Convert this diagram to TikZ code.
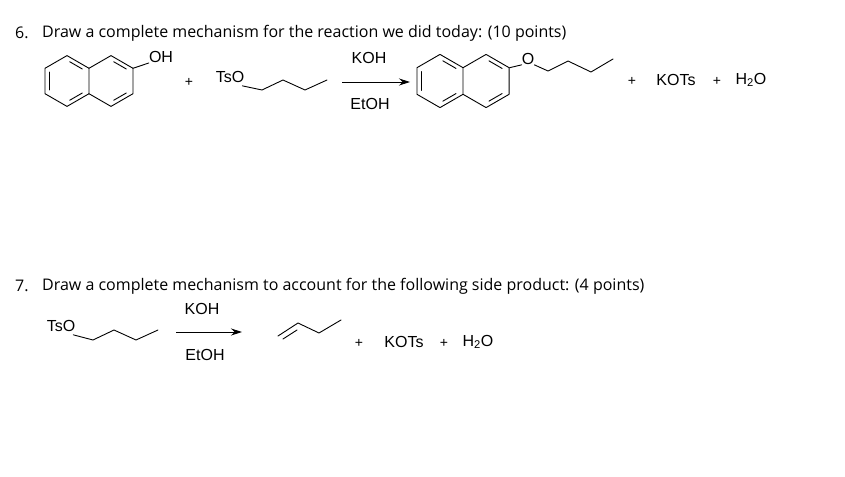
\documentclass[tikz,border=0pt]{standalone}
\usepackage{fontspec}
\setmainfont{Liberation Sans}
\newfontfamily\headfont{Open Sans}
\usetikzlibrary{calc,arrows.meta}
\begin{document}
\begin{tikzpicture}[x=1pt,y=-1pt,
  bond/.style={line width=0.9pt,line cap=round,line join=round},
  head/.style={anchor=west,inner sep=0pt,font=\headfont\fontsize{16}{18}\selectfont},
  lab/.style={inner sep=0pt,font=\fontsize{16}{18}\selectfont},
  plus/.style={inner sep=0pt,font=\fontsize{14}{16}\selectfont},
  rxn/.style={line width=0.9pt,-{Stealth[length=11pt,width=7pt]}}]
\useasboundingbox (0,0) rectangle (845,476);
\def\naph#1#2#3{% cx1 cy r
  \begin{scope}[shift={(#1,#2)}]
  \pgfmathsetmacro\r{#3}\pgfmathsetmacro\w{#3*cos(30)}
  \draw[bond] (90:\r) -- (30:\r) -- (-30:\r) -- (-90:\r) -- (-150:\r) -- (150:\r) -- cycle;
  \draw[bond] (30:\r) -- ++(30:\r) -- ++(-30:\r) -- ++(-90:\r) -- ++(-150:\r) -- ++(150:\r);
  \draw[bond] ($(150:\r)!0.15!(-150:\r)+(0.18*\r,0)$) -- ($(-150:\r)!0.15!(150:\r)+(0.18*\r,0)$);
  \draw[bond] ($(90:\r)!0.15!(30:\r)!0.18!(0,0)$) -- ($(30:\r)!0.15!(90:\r)!0.18!(0,0)$);
  \draw[bond] ($(-90:\r)!0.15!(-30:\r)!0.18!(0,0)$) -- ($(-30:\r)!0.15!(-90:\r)!0.18!(0,0)$);
  \begin{scope}[shift={(2*\w,0)}]
  \draw[bond] ($(90:\r)!0.15!(30:\r)!0.18!(0,0)$) -- ($(30:\r)!0.15!(90:\r)!0.18!(0,0)$);
  \draw[bond] ($(-90:\r)!0.15!(-30:\r)!0.18!(0,0)$) -- ($(-30:\r)!0.15!(-90:\r)!0.18!(0,0)$);
  \end{scope}
  \end{scope}}
% headings
\node[head] (h6n) at (15,33) {6.};
\node[head] (h6) at (42,33) {Draw a complete mechanism for the reaction we did today: (10 points)};
\node[head] (h7n) at (15,286) {7.};
\node[head] (h7) at (42,286) {Draw a complete mechanism to account for the following side product: (4 points)};
% reaction 6
\naph{67}{81}{25.4}
\node[lab] (oh) at (161,57) {OH};
\coordinate (c2) at (133,68.3);
\draw[bond] (c2) -- (oh.west|-0,63);
\node[plus] (p1) at (189,82) {+};
\node[lab] (ts1) at (230,77) {TsO};
\draw[bond] (ts1.south east) ++(-2,3) coordinate (o1) -- (262,90) -- (283,80) -- (305,90) -- (327,80);
\node[lab] (koh1) at (369,58) {KOH};
\node[lab] (etoh1) at (370,104) {EtOH};
\coordinate (a1s) at (342,82); \coordinate (a1e) at (410,82);
\draw[rxn] (a1s) -- (a1e);
\naph{440}{81}{26.6}
\node[lab] (o2) at (528,59) {O};
\coordinate (c3) at (509.6,67.7);
\draw[bond] (c3) -- (o2.south west);
\draw[bond] (o2.south east) -- (548,71) -- (568,61) -- (591,72) -- (613,59);
\node[plus] (p2) at (632,81) {+};
\node[lab] (kots1) at (676,80) {KOTs};
\node[plus] (p3) at (717,81) {+};
\node[lab] (h2o1) at (751,80) {H\textsubscript{2}O};
% reaction 7
\node[lab] (ts2) at (61,326) {TsO};
\draw[bond] (ts2.south east) ++(-2,3) coordinate (o3) -- (93,340) -- (114,330) -- (136,340) -- (158,330);
\node[lab] (koh2) at (202,309) {KOH};
\node[lab] (etoh2) at (205,355) {EtOH};
\coordinate (a2s) at (176,332); \coordinate (a2e) at (242,332);
\draw[rxn] (a2s) -- (a2e);
\coordinate (b1) at (278,336); \coordinate (b2) at (298,323); \coordinate (b3) at (319,333); \coordinate (b4) at (341,320);
\draw[bond] (b1) -- (b2) -- (b3) -- (b4);
\coordinate (d1) at (283,339); \coordinate (d2) at (297,330);
\draw[bond] (d1) -- (d2);
\node[plus] (p4) at (359,343) {+};
\node[lab] (kots2) at (404,342) {KOTs};
\node[plus] (p5) at (444,343) {+};
\node[lab] (h2o2) at (478,342) {H\textsubscript{2}O};
\end{tikzpicture}
\end{document}
